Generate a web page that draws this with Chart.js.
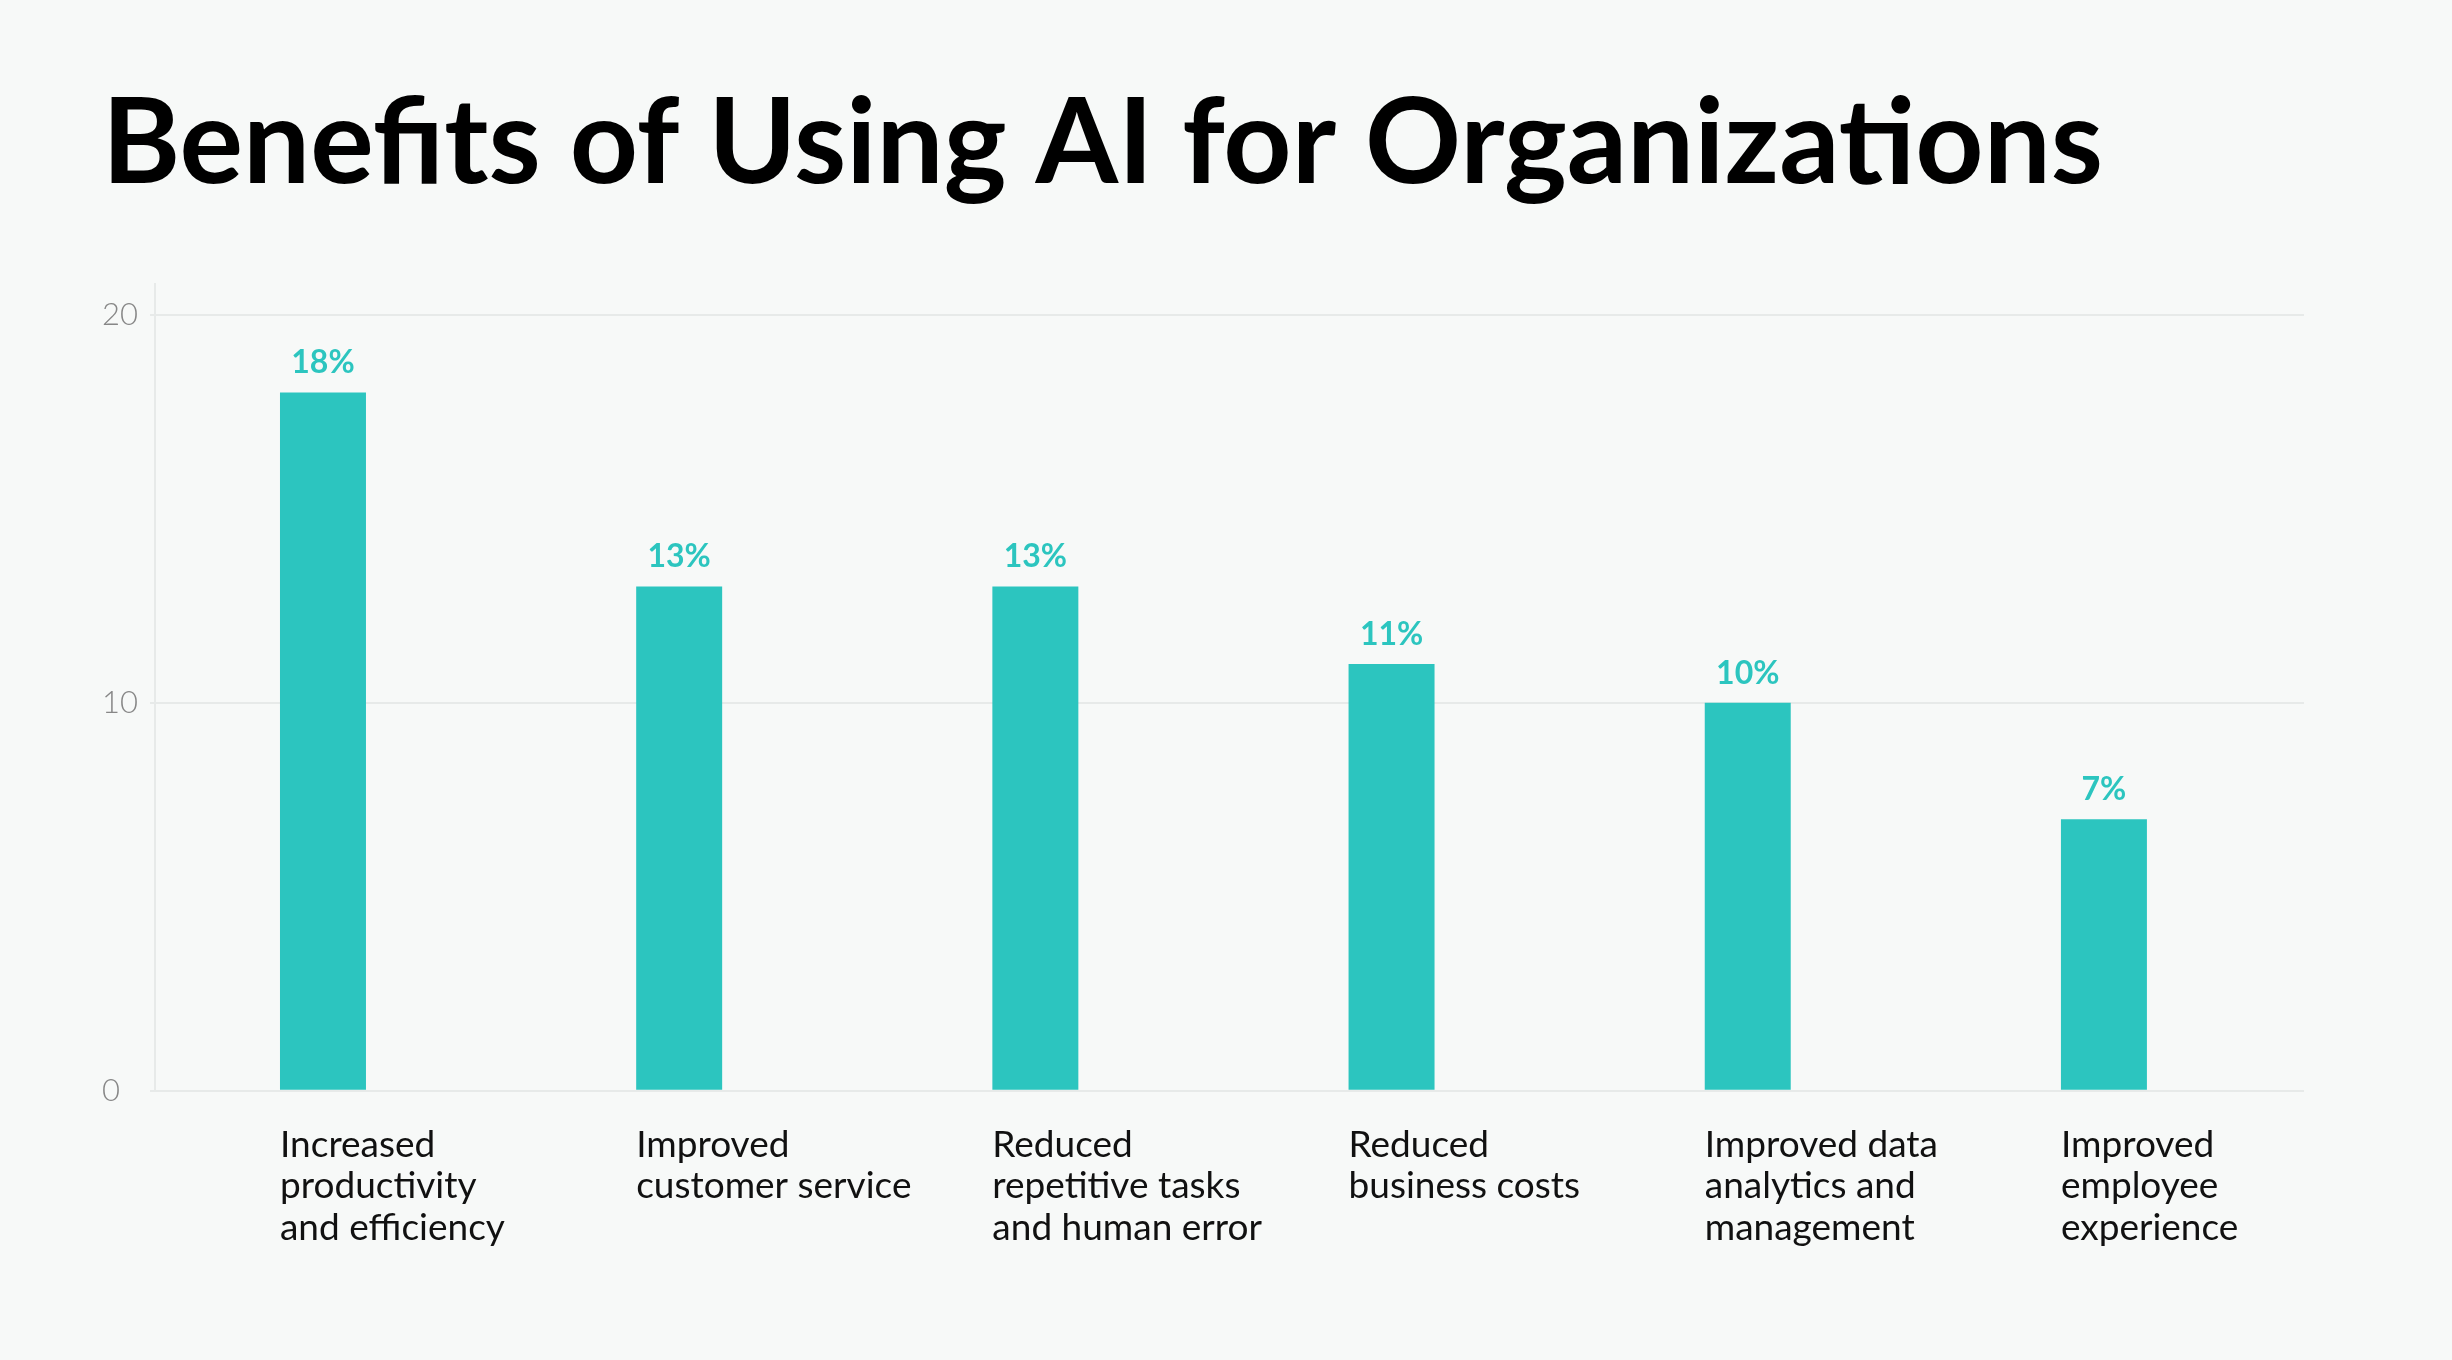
<!DOCTYPE html>
<html>
<head>
<meta charset="utf-8">
<script src="https://cdn.jsdelivr.net/npm/chart.js@4.4.1/dist/chart.umd.min.js"></script>
<style>
  html, body { margin: 0; padding: 0; background: #F7F9F8; overflow: hidden; }
  #wrap { width: 2452px; height: 1360px; position: relative; }
</style>
</head>
<body>
<div id="wrap"><canvas id="c" width="2452" height="1360"></canvas></div>
<script>
// ---- data ----
const titleText = 'Benefits of Using AI for Organizations';
const categories = [
  ['Increased', 'productivity', 'and efficiency'],
  ['Improved', 'customer service'],
  ['Reduced', 'repetitive tasks', 'and human error'],
  ['Reduced', 'business costs'],
  ['Improved data', 'analytics and', 'management'],
  ['Improved', 'employee', 'experience']
];
const values = [18, 13, 13, 11, 10, 7];
const yTickValues = [0, 10, 20];

// ---- style ----
const TEAL = '#2CC5BF';
const GRID = '#E7EAE9';
Chart.defaults.font.family = 'Lato, "Open Sans", sans-serif';

const valueLabels = {
  id: 'valueLabels',
  afterDatasetsDraw(chart) {
    const ctx = chart.ctx;
    const meta = chart.getDatasetMeta(0);
    ctx.save();
    ctx.font = 'bold 32px Lato, sans-serif';
    ctx.fillStyle = TEAL;
    ctx.textAlign = 'center';
    ctx.textBaseline = 'alphabetic';
    meta.data.forEach((bar, i) => {
      ctx.fillText(values[i] + '%', bar.x, bar.y - 19);
    });
    ctx.restore();
  }
};

new Chart(document.getElementById('c'), {
  type: 'bar',
  data: {
    datasets: [{
      data: values.map((v, i) => ({ x: i, y: v })),
      backgroundColor: TEAL,
      borderWidth: 0,
      barPercentage: 1,
      categoryPercentage: 0.2414
    }]
  },
  options: {
    responsive: false,
    devicePixelRatio: 1,
    animation: false,
    layout: { padding: { left: 102, right: 148, top: 0, bottom: 78 } },
    plugins: {
      legend: { display: false },
      tooltip: { enabled: false },
      title: {
        display: true,
        text: titleText,
        align: 'start',
        color: '#000000',
        font: { size: 119, weight: 'bold', lineHeight: 1.2 },
        padding: { top: 73, bottom: 68 }
      }
    },
    scales: {
      x: {
        type: 'linear',
        offset: false,
        bounds: 'data',
        min: -0.4716,
        max: 5.5617,
        grid: { display: false, drawTicks: false, tickLength: 0, offset: false },
        border: { display: false },
        afterBuildTicks: (axis) => { axis.ticks = categories.map((c, i) => ({ value: i })); },
        ticks: {
          autoSkip: false,
          maxRotation: 0,
          minRotation: 0,
          align: 'start',
          labelOffset: -43,
          padding: 33.5,
          color: '#111111',
          font: { size: 37, weight: 'normal', lineHeight: 1.12 },
          callback: (v) => categories[v]
        }
      },
      y: {
        min: 0,
        max: 20.8,
        afterBuildTicks: (axis) => { axis.ticks = yTickValues.map(v => ({ value: v })); },
        afterFit: (axis) => { axis.width = 53; },
        grid: { color: GRID, lineWidth: 2, tickLength: 5, drawTicks: true },
        border: { display: true, color: GRID, width: 2 },
        ticks: {
          crossAlign: 'far',
          padding: 10,
          color: '#878787',
          font: { size: 31, weight: '300' }
        }
      }
    }
  },
  plugins: [valueLabels]
});
</script>
</body>
</html>
